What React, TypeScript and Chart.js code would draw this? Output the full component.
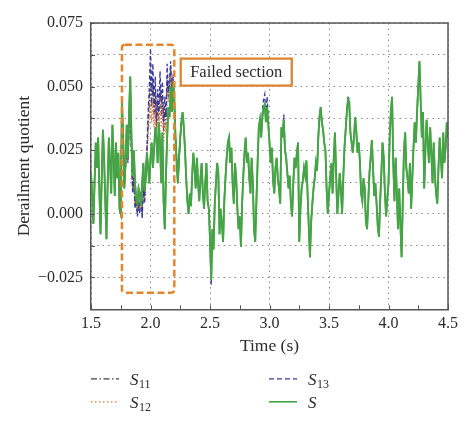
import React, { useEffect, useRef } from 'react';
import { Chart, registerables } from 'chart.js';

Chart.register(...registerables);

// ---------- data ----------
const TIME_STEP = 0.01;
const X_MIN = 1.5;
const X_MAX = 4.5;
const Y_MIN = -0.0375;
const Y_MAX = 0.075;

// Series S (green), in segments: [start time, values every 0.01 s]
const S_SEG_A_START = 1.5;
const S_SEG_A = [0.016, 0.008, -0.004, 0.012, 0.028, 0.018, 0.030, 0.010, -0.008, 0.014, 0.033, 0.022, 0.005, -0.010, 0.012, 0.030, 0.020, 0.008, 0.035, 0.022, 0.007, 0.028, 0.014, 0.024, 0.002, 0.000];
const S_SEG_B_START = 1.76;
const S_SEG_B = [0.045, 0.030, 0.010, 0.020, 0.035, 0.022, 0.040, 0.054, 0.030, 0.015, 0.025, 0.012, 0.006, 0.004, 0.010, 0.008, 0.003, 0.012, 0.020, 0.009, 0.014, 0.024, 0.018, 0.012, 0.022, 0.028, 0.018, 0.025, 0.034, 0.030, 0.020, 0.036, 0.028, 0.012, 0.032, 0.005, -0.006, 0.015, 0.030, 0.042, 0.038, 0.050, 0.040, 0.052, 0.045, 0.030, 0.020, 0.012];
const S_SEG_C_START = 2.24;
const S_SEG_C = [0.022, 0.030, 0.036, 0.040, 0.034, 0.025, 0.014, 0.005, 0.000, 0.008, 0.003, 0.015, 0.024, 0.018, 0.010, 0.022, 0.012, 0.005, 0.014, 0.020, 0.008, 0.002, 0.012, 0.020, 0.005];
const S_SEG_D_START = 2.49;
const S_SEG_D = [0.002, -0.010, -0.026, -0.006, -0.014, 0.004, 0.012, 0.020, 0.016, -0.008, 0.002, -0.004, -0.011, 0.005, 0.014, 0.022, 0.028, 0.030, 0.020, 0.026, 0.012, 0.004, 0.020, 0.014, 0.002, -0.006, -0.001, -0.013, 0.004, 0.015, 0.024, 0.030, 0.020, 0.024, 0.014, 0.008, 0.022, 0.012, -0.006, -0.011, 0.005, 0.020, 0.034, 0.037];
const S_SEG_E_START = 2.93;
const S_SEG_E = [0.030, 0.038, 0.042, 0.043, 0.036, 0.042, 0.035, 0.028];
const S_SEG_F_START = 3.01;
const S_SEG_F = [0.020, 0.026, 0.013, 0.008, 0.018, 0.022, 0.014, 0.010, 0.004, 0.034, 0.030, 0.037, 0.025, 0.022, 0.016, 0.010, 0.015, 0.004, -0.001, 0.012, 0.022, 0.018, 0.024, 0.028, -0.011, 0.002, 0.010, 0.013, 0.018, 0.015, 0.021, 0.008, -0.005, -0.017, -0.003, 0.004, 0.010, 0.014, 0.020, 0.017, 0.030, 0.038, 0.042, 0.036, 0.033, 0.028, 0.025, 0.010, 0.000, 0.008];
const S_SEG_G_START = 3.51;
const S_SEG_G = [0.014, 0.020, 0.008, 0.022, 0.032, 0.015, 0.000, 0.008, 0.016, 0.010, 0.000, 0.014, 0.026, 0.033, 0.040, 0.045, 0.044, 0.032, 0.028, 0.024, 0.030, 0.038, 0.032, 0.024, 0.028, 0.020, 0.008, 0.005, 0.014, 0.010, -0.003, -0.006, 0.005, 0.016, 0.022, 0.029, 0.018, 0.007, 0.012, 0.004, -0.005, -0.009, 0.005, 0.016, 0.028, 0.022, 0.008, -0.001, 0.006, 0.012];
const S_SEG_H_START = 4.01;
const S_SEG_H = [0.030, 0.040, 0.046, 0.020, 0.005, 0.022, 0.008, -0.006, 0.010, -0.004, -0.017, 0.005, 0.025, 0.032, 0.018, 0.014, 0.008, 0.020, 0.002, 0.014, 0.026, 0.036, 0.028, 0.040, 0.050, 0.060, 0.045, 0.030, 0.040, 0.010, 0.025, 0.037, 0.028, 0.020, 0.034, 0.024, 0.012, 0.028, 0.015, 0.008, 0.004, 0.018, 0.030, 0.022, 0.014, 0.032, 0.020, 0.026, 0.036, 0.030];

// S11, S12, S13 within the failed section (elsewhere they lie under S)
const FAIL_SERIES_START = 1.74;
const S11_VALUES = [0.002, 0.000, 0.041, 0.029, 0.012, 0.018, 0.031, 0.021, 0.035, 0.042, 0.025, 0.009, 0.015, 0.003, 0.007, 0.000, 0.005, 0.002, 0.008, 0.000, 0.011, 0.005, 0.015, 0.025, 0.034, 0.044, 0.054, 0.042, 0.052, 0.038, 0.048, 0.033, 0.044, 0.037, 0.050, 0.039, 0.047, 0.032, 0.041, 0.035, 0.053, 0.046, 0.051, 0.057, 0.042, 0.053, 0.043, 0.030, 0.021, 0.013, 0.022, 0.030, 0.036];
const S12_VALUES = [0.002, 0.000, 0.042, 0.029, 0.011, 0.019, 0.032, 0.021, 0.036, 0.045, 0.026, 0.010, 0.016, 0.004, 0.008, 0.002, 0.006, 0.003, 0.009, 0.002, 0.012, 0.006, 0.015, 0.024, 0.030, 0.038, 0.044, 0.036, 0.046, 0.034, 0.043, 0.030, 0.040, 0.035, 0.046, 0.034, 0.042, 0.028, 0.036, 0.032, 0.048, 0.044, 0.050, 0.055, 0.040, 0.052, 0.044, 0.030, 0.020, 0.013, 0.022, 0.030, 0.036];
const S13_VALUES = [0.002, 0.000, 0.040, 0.028, 0.012, 0.018, 0.030, 0.020, 0.034, 0.040, 0.024, 0.008, 0.014, 0.002, 0.006, -0.001, 0.004, 0.000, 0.008, -0.002, 0.010, 0.004, 0.016, 0.026, 0.040, 0.050, 0.065, 0.048, 0.059, 0.042, 0.054, 0.036, 0.049, 0.040, 0.056, 0.044, 0.052, 0.036, 0.046, 0.038, 0.059, 0.048, 0.053, 0.060, 0.044, 0.055, 0.042, 0.030, 0.022, 0.014, 0.022, 0.030, 0.036];
// places outside the failed section where S13 peeks out from under S
const S13_SEG2_START = 2.5;
const S13_SEG2 = [-0.011, -0.028, -0.007];
const S13_SEG3_START = 2.93;
const S13_SEG3 = [0.031, 0.040, 0.045, 0.047, 0.038, 0.046, 0.036];
const S13_SEG4_START = 3.11;
const S13_SEG4 = [0.031, 0.039, 0.026];
const S13_SEG5_START = 3.65;
const S13_SEG5 = [0.041, 0.046, 0.045];

const X_TICK_STEP = 0.5;
const Y_TICK_STEP = 0.0125;
const Y_LABEL_STEP = 0.025;

// annotations (data coordinates)
const FAILED_REGION = { x0: 1.76, x1: 2.2, y0: -0.031, y1: 0.0665 };
const LABEL_BOX = { x0: 2.254, x1: 3.187, y0: 0.0504, y1: 0.061 };
const LABEL_TEXT = 'Failed section';

const GREEN = '#46a446';
const BLUE = '#3b36a0';
const RED = '#e0703a';
const DARK = '#3f3f55';

const LEGEND_ITEMS = [
  { name: 'S', sub: '11', color: DARK, dash: [6, 2.5, 1.5, 2.5], col: 0, row: 0 },
  { name: 'S', sub: '12', color: RED, dash: [1.5, 2.5], col: 0, row: 1 },
  { name: 'S', sub: '13', color: BLUE, dash: [5, 3], col: 1, row: 0 },
  { name: 'S', sub: '', color: GREEN, dash: [], col: 1, row: 1 },
];

const FONT = '"Liberation Serif", "Times New Roman", serif';
const TEXT = '#2b2b2b';

function toPoints(values: number[], start: number) {
  return values.map((v, i) => ({ x: +(start + i * TIME_STEP).toFixed(4), y: v as number | null }));
}
function gapAfter(points: { x: number; y: number | null }[]) {
  const last = points[points.length - 1];
  return [...points, { x: +(last.x + TIME_STEP / 2).toFixed(4), y: null }];
}

const S_POINTS = [
  ...toPoints(S_SEG_A, S_SEG_A_START),
  ...toPoints(S_SEG_B, S_SEG_B_START),
  ...toPoints(S_SEG_C, S_SEG_C_START),
  ...toPoints(S_SEG_D, S_SEG_D_START),
  ...toPoints(S_SEG_E, S_SEG_E_START),
  ...toPoints(S_SEG_F, S_SEG_F_START),
  ...toPoints(S_SEG_G, S_SEG_G_START),
  ...toPoints(S_SEG_H, S_SEG_H_START),
];

const S13_POINTS = [
  ...gapAfter(toPoints(S13_VALUES, FAIL_SERIES_START)),
  ...gapAfter(toPoints(S13_SEG2, S13_SEG2_START)),
  ...gapAfter(toPoints(S13_SEG3, S13_SEG3_START)),
  ...gapAfter(toPoints(S13_SEG4, S13_SEG4_START)),
  ...toPoints(S13_SEG5, S13_SEG5_START),
];

function roundRectPath(ctx: CanvasRenderingContext2D, x: number, y: number, w: number, h: number, r: number) {
  ctx.beginPath();
  ctx.moveTo(x + r, y);
  ctx.lineTo(x + w - r, y);
  ctx.arcTo(x + w, y, x + w, y + r, r);
  ctx.lineTo(x + w, y + h - r);
  ctx.arcTo(x + w, y + h, x + w - r, y + h, r);
  ctx.lineTo(x + r, y + h);
  ctx.arcTo(x, y + h, x, y + h - r, r);
  ctx.lineTo(x, y + r);
  ctx.arcTo(x, y, x + r, y, r);
  ctx.closePath();
}

const overlayPlugin = {
  id: 'overlay',
  afterDatasetsDraw(chart: any) {
    const { ctx, chartArea: ca, scales } = chart;
    const xs = scales.x;
    const ys = scales.y;

    // make sure series S (dataset 0) lies on top of the other series
    const meta = chart.getDatasetMeta(0);
    ctx.save();
    ctx.beginPath();
    ctx.rect(ca.left, ca.top, ca.right - ca.left, ca.bottom - ca.top);
    ctx.clip();
    meta.controller.draw();
    ctx.restore();

    ctx.save();

    // frame top & right
    ctx.strokeStyle = '#555';
    ctx.lineWidth = 1.5;
    ctx.setLineDash([]);
    ctx.beginPath();
    ctx.moveTo(ca.left, ca.top);
    ctx.lineTo(ca.right, ca.top);
    ctx.lineTo(ca.right, ca.bottom);
    ctx.stroke();

    // inward minor ticks
    ctx.lineWidth = 1;
    ctx.beginPath();
    for (let t = X_MIN; t <= X_MAX + 1e-9; t += X_TICK_STEP / 2) {
      const px = Math.round(xs.getPixelForValue(t)) + 0.5;
      ctx.moveTo(px, ca.bottom);
      ctx.lineTo(px, ca.bottom - 4);
    }
    for (let v = Y_MIN; v <= Y_MAX + 1e-9; v += Y_TICK_STEP) {
      const py = Math.round(ys.getPixelForValue(v)) + 0.5;
      ctx.moveTo(ca.left, py);
      ctx.lineTo(ca.left + 4, py);
    }
    ctx.stroke();

    // failed region dashed box
    const fx0 = xs.getPixelForValue(FAILED_REGION.x0);
    const fx1 = xs.getPixelForValue(FAILED_REGION.x1);
    const fy0 = ys.getPixelForValue(FAILED_REGION.y1);
    const fy1 = ys.getPixelForValue(FAILED_REGION.y0);
    ctx.strokeStyle = '#e3862c';
    ctx.lineWidth = 2.5;
    ctx.setLineDash([7, 3.5]);
    roundRectPath(ctx, fx0, fy0, fx1 - fx0, fy1 - fy0, 3);
    ctx.stroke();

    // label box
    const lx0 = xs.getPixelForValue(LABEL_BOX.x0);
    const lx1 = xs.getPixelForValue(LABEL_BOX.x1);
    const ly0 = ys.getPixelForValue(LABEL_BOX.y1);
    const ly1 = ys.getPixelForValue(LABEL_BOX.y0);
    ctx.setLineDash([]);
    ctx.fillStyle = '#ffffff';
    ctx.fillRect(lx0, ly0, lx1 - lx0, ly1 - ly0);
    ctx.strokeStyle = '#dc8630';
    ctx.lineWidth = 2.3;
    ctx.strokeRect(lx0, ly0, lx1 - lx0, ly1 - ly0);
    ctx.fillStyle = TEXT;
    ctx.font = `16.5px ${FONT}`;
    ctx.textAlign = 'center';
    ctx.textBaseline = 'middle';
    ctx.fillText(LABEL_TEXT, (lx0 + lx1) / 2, (ly0 + ly1) / 2 + 0.5);

    // legend
    const colX = [ca.left, ca.left + 178];
    const rowY = [ca.bottom + 69, ca.bottom + 92];
    ctx.textAlign = 'left';
    ctx.textBaseline = 'alphabetic';
    LEGEND_ITEMS.forEach((it) => {
      const x = colX[it.col];
      const y = rowY[it.row];
      ctx.strokeStyle = it.color;
      ctx.lineWidth = it.sub === '' ? 1.6 : 1.3;
      ctx.setLineDash(it.dash);
      ctx.beginPath();
      ctx.moveTo(x, y + 0.5);
      ctx.lineTo(x + 28, y + 0.5);
      ctx.stroke();
      ctx.setLineDash([]);
      ctx.fillStyle = TEXT;
      ctx.font = `italic 17px ${FONT}`;
      ctx.fillText(it.name, x + 39, y + 7);
      const w = ctx.measureText(it.name).width;
      if (it.sub) {
        ctx.font = `12px ${FONT}`;
        ctx.fillText(it.sub, x + 39 + w + 0.5, y + 10);
      }
    });

    ctx.restore();
  },
};

export default function App() {
  const ref = useRef<HTMLCanvasElement | null>(null);

  useEffect(() => {
    document.body.style.margin = '0';
    const canvas = ref.current;
    if (!canvas) return;
    const tickFont = { family: FONT, size: 16 };
    const titleFont = { family: FONT, size: 17.5 };
    const chart = new Chart(canvas, {
      type: 'line',
      data: {
        datasets: [
          { label: 'S', data: S_POINTS, borderColor: GREEN, borderWidth: 1.8, pointRadius: 0, tension: 0 },
          { label: 'S13', data: S13_POINTS, borderColor: BLUE, borderWidth: 1.3, borderDash: [4, 2.5], pointRadius: 0, tension: 0, spanGaps: false },
          { label: 'S12', data: toPoints(S12_VALUES, FAIL_SERIES_START), borderColor: RED, borderWidth: 1.3, borderDash: [1.5, 2], pointRadius: 0, tension: 0 },
          { label: 'S11', data: toPoints(S11_VALUES, FAIL_SERIES_START), borderColor: DARK, borderWidth: 1.2, borderDash: [5, 2, 1.5, 2], pointRadius: 0, tension: 0 },
        ],
      },
      options: {
        animation: false,
        responsive: false,
        maintainAspectRatio: false,
        layout: { padding: { left: 0, right: 26, top: 23, bottom: 0 } },
        plugins: { legend: { display: false }, tooltip: { enabled: false } },
        scales: {
          x: {
            type: 'linear',
            min: X_MIN,
            max: X_MAX,
            ticks: {
              stepSize: X_TICK_STEP,
              autoSkip: false,
              maxRotation: 0,
              padding: 5,
              color: TEXT,
              font: tickFont,
              callback: (v: any) => Number(v).toFixed(1),
            },
            grid: { color: '#8c8c8c', lineWidth: 1, drawTicks: false, tickLength: 0 },
            border: { display: true, color: '#555', width: 1.5, dash: [1.5, 4] },
            title: { display: true, text: 'Time (s)', color: TEXT, font: titleFont, padding: { top: 0, bottom: 69 } },
            afterFit: (s: any) => { s.height = 116.7; },
          },
          y: {
            type: 'linear',
            min: Y_MIN,
            max: Y_MAX,
            ticks: {
              stepSize: Y_TICK_STEP,
              autoSkip: false,
              padding: 8,
              color: TEXT,
              font: tickFont,
              callback: (v: any) => {
                const n = Number(v);
                const k = n / Y_LABEL_STEP;
                if (Math.abs(k - Math.round(k)) > 1e-6) return '';
                const s = Math.abs(n).toFixed(3);
                return n < -1e-9 ? '\u2212' + s : s;
              },
            },
            grid: { color: '#8c8c8c', lineWidth: 1, drawTicks: false, tickLength: 0 },
            border: { display: true, color: '#555', width: 1.5, dash: [1.5, 4] },
            title: { display: true, text: 'Derailment quotient', color: TEXT, font: titleFont, padding: { top: 14, bottom: 0 } },
            afterFit: (s: any) => { s.width = 91; },
          },
        },
      },
      plugins: [overlayPlugin],
    });
    return () => chart.destroy();
  }, []);

  return (
    <div style={{ width: 474, height: 426 }}>
      <canvas ref={ref} width={474} height={426} style={{ display: 'block' }} />
    </div>
  );
}
